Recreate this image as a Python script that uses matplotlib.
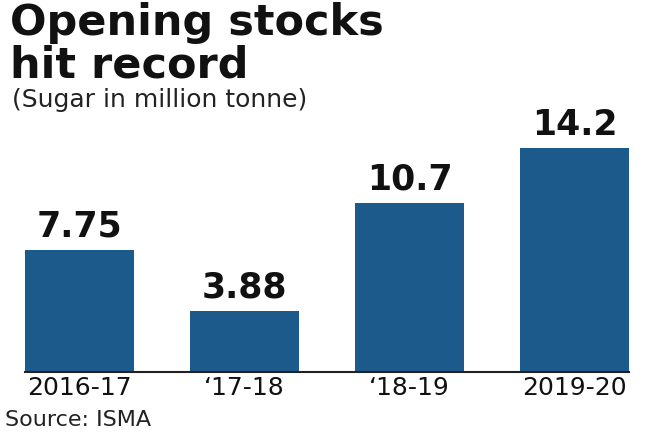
import matplotlib.pyplot as plt

seasons = ['2016-17', '\u201817-18', '\u201818-19', '2019-20']
stocks = [7.75, 3.88, 10.7, 14.2]
value_labels = ['7.75', '3.88', '10.7', '14.2']

bar_color = '#1c5a8c'

fig = plt.figure(figsize=(6.6, 4.4), dpi=100)
ax = fig.add_axes([25 / 660, 68 / 440, 604 / 660, 262 / 440])

x = range(len(seasons))
ax.bar(x, stocks, width=0.655, color=bar_color)
for xi, v, lab in zip(x, stocks, value_labels):
    ax.text(xi, v + 0.4, lab, ha='center', va='bottom', fontsize=25,
            fontweight='bold', color='#111111')

ax.set_xlim(-0.33, 3.33)
ax.set_ylim(0, 16.6)
ax.set_yticks([])
ax.set_xticks(list(x))
ax.set_xticklabels(seasons, fontsize=18, color='#111111')
ax.tick_params(axis='x', length=0, pad=3)
for side in ['top', 'right', 'left']:
    ax.spines[side].set_visible(False)
ax.spines['bottom'].set_linewidth(1.5)
ax.spines['bottom'].set_color('#222222')

fig.text(10 / 660, 1 - 2 / 440, 'Opening stocks\nhit record', ha='left', va='top',
         fontsize=31, fontweight='bold', color='#111111', linespacing=1.0)
fig.text(12 / 660, 1 - 100 / 440, '(Sugar in million tonne)', ha='left', va='center',
         fontsize=18, color='#222222')
fig.text(5 / 660, 1 - 420 / 440, 'Source: ISMA', ha='left', va='center',
         fontsize=16, color='#222222')

fig.savefig('out.png', dpi=100)
